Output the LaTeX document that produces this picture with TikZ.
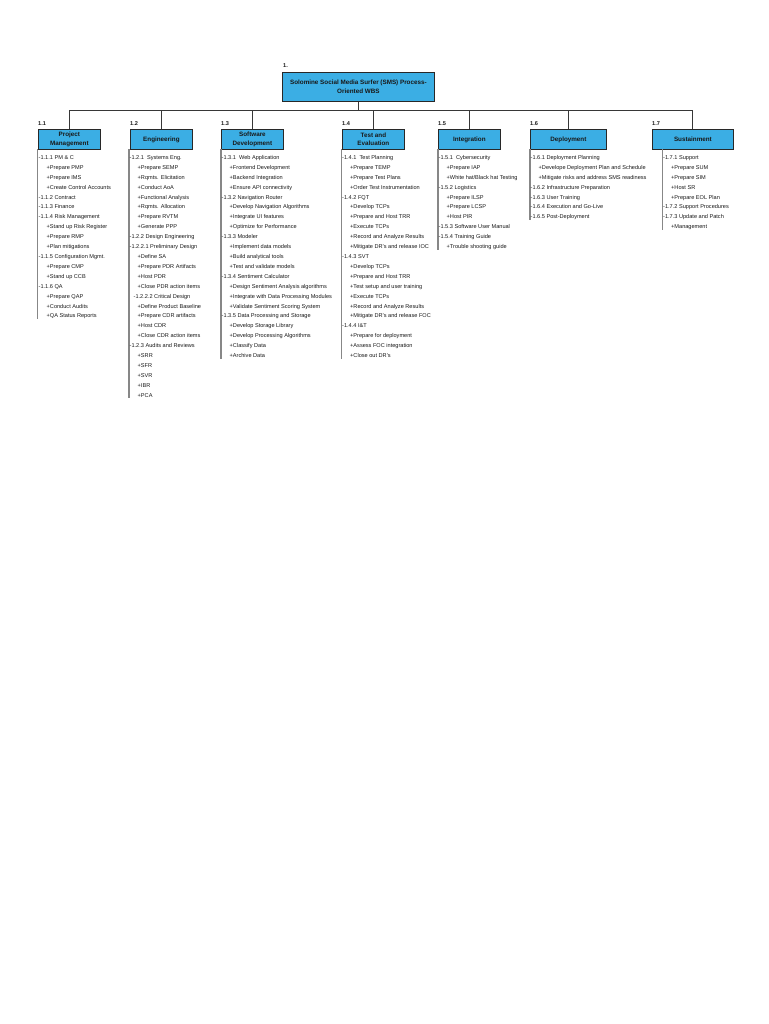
\documentclass[tikz,border=0pt]{standalone}
\usepackage{fontspec}
\setmainfont{Liberation Sans}
\definecolor{boxfill}{RGB}{59,174,228}
\definecolor{boxline}{RGB}{40,40,40}
\definecolor{connc}{RGB}{55,55,55}
\definecolor{listc}{RGB}{135,135,135}
\definecolor{txt}{RGB}{25,25,25}
\tikzset{
  wbsbox/.style={draw=boxline, fill=boxfill, line width=0.8pt, inner sep=0pt,
    align=center, anchor=north west, text=txt,
    font=\bfseries\fontsize{6.3}{8.4}\selectfont},
  wbslbl/.style={anchor=base west, inner sep=0pt, text=txt,
    font=\bfseries\fontsize{5.6}{6.5}\selectfont},
  wbsrow/.style={anchor=base west, inner sep=0pt, text=txt,
    font=\fontsize{5.6}{6.5}\selectfont},
  conn/.style={draw=connc, line width=0.9pt},
  listline/.style={draw=listc, line width=1.1pt}
}
\newcommand\wbslist[3]{%
  \foreach \dd/\tx [count=\nn from 0] in {#3}{%
    \node[wbsrow] (#1r\nn) at ({#2+\dd},{159.5+9.9*\nn}) {\tx};%
  }%
}
\begin{document}
\begin{tikzpicture}[x=1pt,y=-1pt]
\fill[white] (0,0) rectangle (768,1024);
\useasboundingbox (0,0) rectangle (768,1024);

% top
\node[wbslbl] (ltop) at (283,68) {1.};
\node[wbsbox, minimum width=152pt, minimum height=29pt] (top) at (282,72)
  {Solomine Social Media Surfer (SMS) Process-\\Oriented WBS};

% level-2 labels
\node[wbslbl] (l11) at (38,126) {1.1};
\node[wbslbl] (l12) at (130,126) {1.2};
\node[wbslbl] (l13) at (221,126) {1.3};
\node[wbslbl] (l14) at (342,126) {1.4};
\node[wbslbl] (l15) at (438,126) {1.5};
\node[wbslbl] (l16) at (530,126) {1.6};
\node[wbslbl] (l17) at (652,126) {1.7};

% level-2 boxes
\node[wbsbox, minimum width=62pt, minimum height=20pt] (b11) at (38,129) {Project\\Management};
\node[wbsbox, minimum width=62pt, minimum height=20pt] (b12) at (130,129) {Engineering};
\node[wbsbox, minimum width=62pt, minimum height=20pt] (b13) at (221,129) {Software\\Development};
\node[wbsbox, minimum width=62pt, minimum height=20pt] (b14) at (342,129) {Test and\\Evaluation};
\node[wbsbox, minimum width=62pt, minimum height=20pt] (b15) at (438,129) {Integration};
\node[wbsbox, minimum width=76pt, minimum height=20pt] (b16) at (530,129) {Deployment};
\node[wbsbox, minimum width=81pt, minimum height=20pt] (b17) at (652,129) {Sustainment};

% connectors
\coordinate (bus) at (0,110.7);
\draw[conn] (top.south) -- (top.south |- bus);
\draw[conn] (b11.north |- bus) -- (b17.north |- bus);
\foreach \b in {b11,b12,b13,b14,b15,b16,b17}
  \draw[conn] (\b.north |- bus) -- (\b.north);

% list lines
\coordinate (v11a) at (37.5,149.4); \coordinate (v11b) at (37.5,319);
\coordinate (v12a) at (129,149.4);  \coordinate (v12b) at (129,398);
\coordinate (v13a) at (221,149.4);  \coordinate (v13b) at (221,358.5);
\coordinate (v14a) at (341.5,149.4);\coordinate (v14b) at (341.5,358.5);
\coordinate (v15a) at (438,149.4);  \coordinate (v15b) at (438,249.6);
\coordinate (v16a) at (530,149.4);  \coordinate (v16b) at (530,220);
\coordinate (v17a) at (662.5,149.4);\coordinate (v17b) at (662.5,230);
\foreach \c in {11,12,13,14,15,16,17}
  \draw[listline] (v\c a) -- (v\c b);

% lists
\wbslist{c11}{38.5}{0/{-1.1.1 PM \& C},8/{+Prepare PMP},8/{+Prepare IMS},8/{+Create Control Accounts},0/{-1.1.2 Contract},0/{-1.1.3 Finance},0/{-1.1.4 Risk Management},8/{+Stand up Risk Register},8/{+Prepare RMP},8/{+Plan mitigations},0/{-1.1.5 Configuration Mgmt.},8/{+Prepare CMP},8/{+Stand up CCB},0/{-1.1.6 QA},8/{+Prepare QAP},8/{+Conduct Audits},8/{+QA Status Reports}}

\wbslist{c12}{129.5}{0/{-1.2.1~ Systems Eng.},8/{+Prepare SEMP},8/{+Rqmts. Elicitation},8/{+Conduct AoA},8/{+Functional Analysis},8/{+Rqmts. Allocation},8/{+Prepare RVTM},8/{+Generate PPP},0/{-1.2.2 Design Engineering},0/{-1.2.2.1 Preliminary Design},8/{+Define SA},8/{+Prepare PDR Artifacts},8/{+Host PDR},8/{+Close PDR action items},4/{-1.2.2.2 Critical Design},8/{+Define Product Baseline},8/{+Prepare CDR artifacts},8/{+Host CDR},8/{+Close CDR action items},0/{-1.2.3 Audits and Reviews},8/{+SRR},8/{+SFR},8/{+SVR},8/{+IBR},8/{+PCA}}

\wbslist{c13}{221.5}{0/{-1.3.1~ Web Application},8/{+Frontend Development},8/{+Backend Integration},8/{+Ensure API connectivity},0/{-1.3.2 Navigation Router},8/{+Develop Navigation Algorithms},8/{+Integrate UI features},8/{+Optimize for Performance},0/{-1.3.3 Modeler},8/{+Implement data models},8/{+Build analytical tools},8/{+Test and validate models},0/{-1.3.4 Sentiment Calculator},8/{+Design Sentiment Analysis algorithms},8/{+Integrate with Data Processing Modules},8/{+Validate Sentiment Scoring System},0/{-1.3.5 Data Processing and Storage},8/{+Develop Storage Library},8/{+Develop Processing Algorithms},8/{+Classify Data},8/{+Archive Data}}

\wbslist{c14}{342}{0/{-1.4.1~ Test Planning},8/{+Prepare TEMP},8/{+Prepare Test Plans},8/{+Order Test Instrumentation},0/{-1.4.2 FQT},8/{+Develop TCPs},8/{+Prepare and Host TRR},8/{+Execute TCPs},8/{+Record and Analyze Results},8/{+Mitigate DR's and release IOC},0/{-1.4.3 SVT},8/{+Develop TCPs},8/{+Prepare and Host TRR},8/{+Test setup and user training},8/{+Execute TCPs},8/{+Record and Analyze Results},8/{+Mitigate DR's and release FOC},0/{-1.4.4 I\&T},8/{+Prepare for deployment},8/{+Assess FOC integration},8/{+Close out DR's}}

\wbslist{c15}{438.5}{0/{-1.5.1~ Cybersecurity},8/{+Prepare IAP},8/{+White hat/Black hat Testing},0/{-1.5.2 Logistics},8/{+Prepare ILSP},8/{+Prepare LCSP},8/{+Host PIR},0/{-1.5.3 Software User Manual},0/{-1.5.4 Training Guide},8/{+Trouble shooting guide}}

\wbslist{c16}{530.5}{0/{-1.6.1 Deployment Planning},8/{+Develope Deployment Plan and Schedule},8/{+Mitigate risks and address SMS readiness},0/{-1.6.2 Infrastructure Preparation},0/{-1.6.3 User Training},0/{-1.6.4 Execution and Go-Live},0/{-1.6.5 Post-Deployment}}

\wbslist{c17}{663}{0/{-1.7.1 Support},8/{+Prepare SUM},8/{+Prepare SIM},8/{+Host SR},8/{+Prepare EOL Plan},0/{-1.7.2 Support Procedures},0/{-1.7.3 Update and Patch},8/{+Management}}
\end{tikzpicture}
\end{document}
